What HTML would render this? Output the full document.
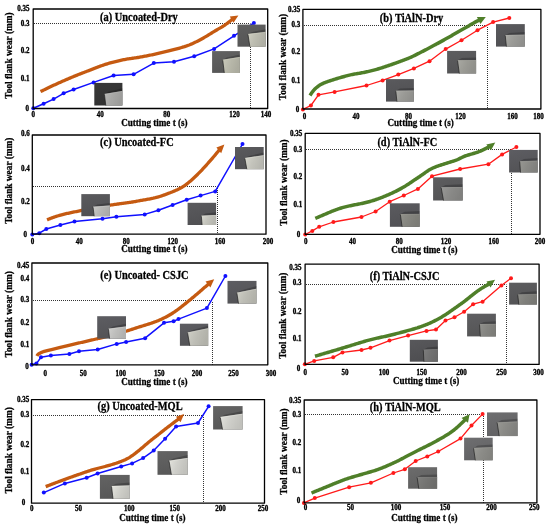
<!DOCTYPE html>
<html><head><meta charset="utf-8"><style>
html,body{margin:0;padding:0;background:#fff;width:550px;height:527px;overflow:hidden;}
svg{display:block;font-family:"Liberation Serif",serif;filter:blur(0.35px);}
</style></head><body>
<svg width="550" height="527" viewBox="0 0 550 527" font-family="Liberation Serif" font-weight="bold" fill="#000" stroke-linejoin="round">
<defs><linearGradient id="t1" x1="0" y1="0" x2="1" y2="0.3"><stop offset="0" stop-color="#b9b9b7"/><stop offset="0.5" stop-color="#a8a8a6"/><stop offset="1" stop-color="#9c9c9a"/></linearGradient><linearGradient id="b1" x1="0" y1="0" x2="0.3" y2="1"><stop offset="0" stop-color="#383838"/><stop offset="1" stop-color="#323232"/></linearGradient><linearGradient id="t2" x1="0" y1="0" x2="1" y2="0.3"><stop offset="0" stop-color="#cacabb"/><stop offset="0.5" stop-color="#b8b8aa"/><stop offset="1" stop-color="#abab9e"/></linearGradient><linearGradient id="b2" x1="0" y1="0" x2="0.3" y2="1"><stop offset="0" stop-color="#626262"/><stop offset="1" stop-color="#565656"/></linearGradient><linearGradient id="t3" x1="0" y1="0" x2="1" y2="0.3"><stop offset="0" stop-color="#cfcfc2"/><stop offset="0.5" stop-color="#bcbcb0"/><stop offset="1" stop-color="#afafa4"/></linearGradient><linearGradient id="b3" x1="0" y1="0" x2="0.3" y2="1"><stop offset="0" stop-color="#5f5f5f"/><stop offset="1" stop-color="#555555"/></linearGradient><linearGradient id="t4" x1="0" y1="0" x2="1" y2="0.3"><stop offset="0" stop-color="#a9a9a5"/><stop offset="0.5" stop-color="#9a9a96"/><stop offset="1" stop-color="#8f8f8c"/></linearGradient><linearGradient id="b4" x1="0" y1="0" x2="0.3" y2="1"><stop offset="0" stop-color="#5a5a5d"/><stop offset="1" stop-color="#505053"/></linearGradient><linearGradient id="t5" x1="0" y1="0" x2="1" y2="0.3"><stop offset="0" stop-color="#a9a9a3"/><stop offset="0.5" stop-color="#9a9a94"/><stop offset="1" stop-color="#8f8f8a"/></linearGradient><linearGradient id="b5" x1="0" y1="0" x2="0.3" y2="1"><stop offset="0" stop-color="#5d5d5f"/><stop offset="1" stop-color="#535355"/></linearGradient><linearGradient id="t6" x1="0" y1="0" x2="1" y2="0.3"><stop offset="0" stop-color="#a9a9a5"/><stop offset="0.5" stop-color="#9a9a96"/><stop offset="1" stop-color="#8f8f8c"/></linearGradient><linearGradient id="b6" x1="0" y1="0" x2="0.3" y2="1"><stop offset="0" stop-color="#5a5a5d"/><stop offset="1" stop-color="#505053"/></linearGradient><linearGradient id="t7" x1="0" y1="0" x2="1" y2="0.3"><stop offset="0" stop-color="#cacac8"/><stop offset="0.5" stop-color="#b8b8b6"/><stop offset="1" stop-color="#ababa9"/></linearGradient><linearGradient id="b7" x1="0" y1="0" x2="0.3" y2="1"><stop offset="0" stop-color="#5a5a5d"/><stop offset="1" stop-color="#505053"/></linearGradient><linearGradient id="t8" x1="0" y1="0" x2="1" y2="0.3"><stop offset="0" stop-color="#d8d8cf"/><stop offset="0.5" stop-color="#c4c4bc"/><stop offset="1" stop-color="#b6b6af"/></linearGradient><linearGradient id="b8" x1="0" y1="0" x2="0.3" y2="1"><stop offset="0" stop-color="#5a5a5d"/><stop offset="1" stop-color="#505053"/></linearGradient><linearGradient id="t9" x1="0" y1="0" x2="1" y2="0.3"><stop offset="0" stop-color="#d8d8cf"/><stop offset="0.5" stop-color="#c4c4bc"/><stop offset="1" stop-color="#b6b6af"/></linearGradient><linearGradient id="b9" x1="0" y1="0" x2="0.3" y2="1"><stop offset="0" stop-color="#5a5a5d"/><stop offset="1" stop-color="#505053"/></linearGradient><linearGradient id="t10" x1="0" y1="0" x2="1" y2="0.3"><stop offset="0" stop-color="#92928c"/><stop offset="0.5" stop-color="#85857f"/><stop offset="1" stop-color="#7c7c76"/></linearGradient><linearGradient id="b10" x1="0" y1="0" x2="0.3" y2="1"><stop offset="0" stop-color="#5b5b5f"/><stop offset="1" stop-color="#515155"/></linearGradient><linearGradient id="t11" x1="0" y1="0" x2="1" y2="0.3"><stop offset="0" stop-color="#989896"/><stop offset="0.5" stop-color="#8a8a88"/><stop offset="1" stop-color="#80807e"/></linearGradient><linearGradient id="b11" x1="0" y1="0" x2="0.3" y2="1"><stop offset="0" stop-color="#5d5d5f"/><stop offset="1" stop-color="#535355"/></linearGradient><linearGradient id="t12" x1="0" y1="0" x2="1" y2="0.3"><stop offset="0" stop-color="#989893"/><stop offset="0.5" stop-color="#8a8a86"/><stop offset="1" stop-color="#80807d"/></linearGradient><linearGradient id="b12" x1="0" y1="0" x2="0.3" y2="1"><stop offset="0" stop-color="#5d5d62"/><stop offset="1" stop-color="#535356"/></linearGradient><linearGradient id="t13" x1="0" y1="0" x2="1" y2="0.3"><stop offset="0" stop-color="#d1d1cf"/><stop offset="0.5" stop-color="#bebebc"/><stop offset="1" stop-color="#b1b1af"/></linearGradient><linearGradient id="b13" x1="0" y1="0" x2="0.3" y2="1"><stop offset="0" stop-color="#5d5d62"/><stop offset="1" stop-color="#535356"/></linearGradient><linearGradient id="t14" x1="0" y1="0" x2="1" y2="0.3"><stop offset="0" stop-color="#d1d1c8"/><stop offset="0.5" stop-color="#bebeb6"/><stop offset="1" stop-color="#b1b1a9"/></linearGradient><linearGradient id="b14" x1="0" y1="0" x2="0.3" y2="1"><stop offset="0" stop-color="#5d5d62"/><stop offset="1" stop-color="#535356"/></linearGradient><linearGradient id="t15" x1="0" y1="0" x2="1" y2="0.3"><stop offset="0" stop-color="#d1d1c8"/><stop offset="0.5" stop-color="#bebeb6"/><stop offset="1" stop-color="#b1b1a9"/></linearGradient><linearGradient id="b15" x1="0" y1="0" x2="0.3" y2="1"><stop offset="0" stop-color="#5d5d62"/><stop offset="1" stop-color="#535356"/></linearGradient><linearGradient id="t16" x1="0" y1="0" x2="1" y2="0.3"><stop offset="0" stop-color="#7d7d7d"/><stop offset="0.5" stop-color="#727272"/><stop offset="1" stop-color="#6a6a6a"/></linearGradient><linearGradient id="b16" x1="0" y1="0" x2="0.3" y2="1"><stop offset="0" stop-color="#58585b"/><stop offset="1" stop-color="#4e4e51"/></linearGradient><linearGradient id="t17" x1="0" y1="0" x2="1" y2="0.3"><stop offset="0" stop-color="#92928e"/><stop offset="0.5" stop-color="#858581"/><stop offset="1" stop-color="#7c7c78"/></linearGradient><linearGradient id="b17" x1="0" y1="0" x2="0.3" y2="1"><stop offset="0" stop-color="#5f5f62"/><stop offset="1" stop-color="#555556"/></linearGradient><linearGradient id="t18" x1="0" y1="0" x2="1" y2="0.3"><stop offset="0" stop-color="#8d8d88"/><stop offset="0.5" stop-color="#80807c"/><stop offset="1" stop-color="#777773"/></linearGradient><linearGradient id="b18" x1="0" y1="0" x2="0.3" y2="1"><stop offset="0" stop-color="#5d5d5f"/><stop offset="1" stop-color="#535355"/></linearGradient><linearGradient id="t19" x1="0" y1="0" x2="1" y2="0.3"><stop offset="0" stop-color="#e5e5de"/><stop offset="0.5" stop-color="#d0d0ca"/><stop offset="1" stop-color="#c1c1bc"/></linearGradient><linearGradient id="b19" x1="0" y1="0" x2="0.3" y2="1"><stop offset="0" stop-color="#636363"/><stop offset="1" stop-color="#575757"/></linearGradient><linearGradient id="t20" x1="0" y1="0" x2="1" y2="0.3"><stop offset="0" stop-color="#e4e4de"/><stop offset="0.5" stop-color="#cfcfca"/><stop offset="1" stop-color="#c1c1bc"/></linearGradient><linearGradient id="b20" x1="0" y1="0" x2="0.3" y2="1"><stop offset="0" stop-color="#646464"/><stop offset="1" stop-color="#585858"/></linearGradient><linearGradient id="t21" x1="0" y1="0" x2="1" y2="0.3"><stop offset="0" stop-color="#e4e4de"/><stop offset="0.5" stop-color="#cfcfca"/><stop offset="1" stop-color="#c1c1bc"/></linearGradient><linearGradient id="b21" x1="0" y1="0" x2="0.3" y2="1"><stop offset="0" stop-color="#646464"/><stop offset="1" stop-color="#585858"/></linearGradient><linearGradient id="t22" x1="0" y1="0" x2="1" y2="0.3"><stop offset="0" stop-color="#80807d"/><stop offset="0.5" stop-color="#747472"/><stop offset="1" stop-color="#6c6c6a"/></linearGradient><linearGradient id="b22" x1="0" y1="0" x2="0.3" y2="1"><stop offset="0" stop-color="#6c6c6c"/><stop offset="1" stop-color="#606060"/></linearGradient><linearGradient id="t23" x1="0" y1="0" x2="1" y2="0.3"><stop offset="0" stop-color="#9a9a96"/><stop offset="0.5" stop-color="#8c8c88"/><stop offset="1" stop-color="#82827e"/></linearGradient><linearGradient id="b23" x1="0" y1="0" x2="0.3" y2="1"><stop offset="0" stop-color="#6e6e70"/><stop offset="1" stop-color="#626264"/></linearGradient><linearGradient id="t24" x1="0" y1="0" x2="1" y2="0.3"><stop offset="0" stop-color="#989893"/><stop offset="0.5" stop-color="#8a8a86"/><stop offset="1" stop-color="#80807d"/></linearGradient><linearGradient id="b24" x1="0" y1="0" x2="0.3" y2="1"><stop offset="0" stop-color="#6e6e70"/><stop offset="1" stop-color="#626264"/></linearGradient></defs><rect width="550" height="527" fill="#fff"/>
<g><path d="M34,23.5H250.5" fill="none" stroke="#333" stroke-width="1" stroke-dasharray="1,1"/><path d="M250.5,25V108.5" fill="none" stroke="#333" stroke-width="1" stroke-dasharray="1,1"/><path d="M40.50,91.60 L41.04,91.34 L41.69,91.02 L42.43,90.67 L43.23,90.28 L44.08,89.86 L44.97,89.43 L45.90,88.98 L46.86,88.52 L47.85,88.04 L48.86,87.56 L49.89,87.07 L50.93,86.57 L51.98,86.08 L53.02,85.59 L54.05,85.11 L55.07,84.64 L56.07,84.18 L57.06,83.73 L58.04,83.28 L59.01,82.84 L59.99,82.41 L60.97,81.97 L61.95,81.54 L62.94,81.11 L63.93,80.67 L64.92,80.24 L65.91,79.81 L66.90,79.39 L67.88,78.96 L68.85,78.55 L69.81,78.14 L70.77,77.73 L71.72,77.33 L72.67,76.93 L73.62,76.54 L74.57,76.14 L75.53,75.75 L76.49,75.36 L77.45,74.97 L78.40,74.59 L79.34,74.22 L80.27,73.85 L81.20,73.49 L82.13,73.14 L83.06,72.78 L84.00,72.42 L84.95,72.05 L85.91,71.69 L86.86,71.33 L87.82,70.96 L88.77,70.60 L89.71,70.23 L90.64,69.87 L91.58,69.51 L92.52,69.14 L93.46,68.77 L94.42,68.40 L95.38,68.02 L96.35,67.65 L97.33,67.27 L98.32,66.90 L99.30,66.53 L100.29,66.16 L101.29,65.81 L102.28,65.45 L103.27,65.11 L104.26,64.77 L105.26,64.44 L106.26,64.12 L107.28,63.81 L108.29,63.50 L109.32,63.20 L110.36,62.91 L111.40,62.62 L112.44,62.34 L113.48,62.06 L114.52,61.79 L115.56,61.53 L116.59,61.28 L117.61,61.03 L118.62,60.79 L119.62,60.56 L120.62,60.34 L121.61,60.12 L122.60,59.91 L123.60,59.70 L124.61,59.51 L125.62,59.32 L126.65,59.14 L127.67,58.97 L128.68,58.81 L129.69,58.66 L130.70,58.52 L131.70,58.38 L132.71,58.25 L133.72,58.11 L134.73,57.97 L135.75,57.82 L136.78,57.66 L137.79,57.50 L138.80,57.33 L139.80,57.16 L140.79,56.98 L141.78,56.80 L142.78,56.62 L143.78,56.43 L144.79,56.23 L145.81,56.04 L146.84,55.83 L147.88,55.63 L148.92,55.42 L149.96,55.21 L151.01,54.99 L152.05,54.78 L153.09,54.56 L154.13,54.34 L155.17,54.11 L156.20,53.89 L157.23,53.66 L158.27,53.43 L159.31,53.19 L160.35,52.95 L161.39,52.71 L162.44,52.47 L163.48,52.22 L164.52,51.97 L165.56,51.72 L166.59,51.47 L167.61,51.22 L168.62,50.97 L169.62,50.72 L170.61,50.47 L171.60,50.22 L172.59,49.96 L173.59,49.70 L174.59,49.44 L175.61,49.17 L176.63,48.89 L177.65,48.62 L178.68,48.33 L179.69,48.05 L180.69,47.77 L181.67,47.48 L182.63,47.20 L183.58,46.91 L184.52,46.62 L185.45,46.31 L186.39,46.00 L187.34,45.67 L188.30,45.31 L189.28,44.94 L190.27,44.54 L191.26,44.13 L192.25,43.70 L193.23,43.25 L194.20,42.80 L195.15,42.34 L196.10,41.87 L197.04,41.40 L197.97,40.93 L198.90,40.44 L199.82,39.96 L200.73,39.47 L201.65,38.97 L202.56,38.46 L203.47,37.95 L204.38,37.43 L205.29,36.90 L206.20,36.36 L207.11,35.81 L208.02,35.26 L208.93,34.69 L209.84,34.13 L210.75,33.56 L211.66,32.99 L212.57,32.42 L213.48,31.86 L214.39,31.31 L215.31,30.76 L216.22,30.22 L217.13,29.70 L218.05,29.17 L218.96,28.66 L219.88,28.14 L220.79,27.61 L221.70,27.07 L222.62,26.51 L223.54,25.93 L224.46,25.32 L225.39,24.67 L226.32,24.01 L227.25,23.32 L228.18,22.62 L229.09,21.92 L229.99,21.21 L230.86,20.51 L231.67,19.85 L232.38,19.27 L232.93,18.82" fill="none" stroke-linejoin="round" stroke="#c55a11" stroke-width="3.3"/><polygon points="238.4,15.5 229.8,16.4 233.5,22.8" fill="#c55a11"/><polyline points="33.3,108.2 43.6,103.8 53.6,99.1 63.6,93.3 73.6,89.5 93.6,82.4 113.6,75.5 133.6,74.3 153.8,63.1 174.0,61.7 194.2,56.3 214.1,48.9 234.0,35.8 253.9,23.0" fill="none" stroke="#1010ff" stroke-width="1.5"/><circle cx="33.3" cy="108.2" r="2.0" fill="#1010ff"/><circle cx="43.6" cy="103.8" r="2.0" fill="#1010ff"/><circle cx="53.6" cy="99.1" r="2.0" fill="#1010ff"/><circle cx="63.6" cy="93.3" r="2.0" fill="#1010ff"/><circle cx="73.6" cy="89.5" r="2.0" fill="#1010ff"/><circle cx="93.6" cy="82.4" r="2.0" fill="#1010ff"/><circle cx="113.6" cy="75.5" r="2.0" fill="#1010ff"/><circle cx="133.6" cy="74.3" r="2.0" fill="#1010ff"/><circle cx="153.8" cy="63.1" r="2.0" fill="#1010ff"/><circle cx="174.0" cy="61.7" r="2.0" fill="#1010ff"/><circle cx="194.2" cy="56.3" r="2.0" fill="#1010ff"/><circle cx="214.1" cy="48.9" r="2.0" fill="#1010ff"/><circle cx="234.0" cy="35.8" r="2.0" fill="#1010ff"/><circle cx="253.9" cy="23.0" r="2.0" fill="#1010ff"/><rect x="94.3" y="82.9" width="28.1" height="22.6" fill="url(#b1)"/><polygon points="108.6,91.7 122.4,88.3 122.4,91.0 104.4,94.0" fill="#000" opacity="0.22"/><polygon points="104.4,94.0 122.4,91.0 122.4,105.5 105.8,105.5" fill="url(#t1)"/><line x1="104.4" y1="94.0" x2="105.8" y2="105.5" stroke="#1e1e1e" stroke-width="0.9" opacity="0.75"/><line x1="104.4" y1="94.3" x2="122.4" y2="91.3" stroke="#c1c1bf" stroke-width="0.6" opacity="0.7"/><rect x="212.1" y="51.1" width="27.8" height="21.8" fill="url(#b2)"/><polygon points="226.8,57.6 239.9,54.4 239.9,57.0 222.7,59.8" fill="#000" opacity="0.22"/><polygon points="222.7,59.8 239.9,57.0 239.9,72.9 224.3,72.9" fill="url(#t2)"/><line x1="222.7" y1="59.8" x2="224.3" y2="72.9" stroke="#1e1e1e" stroke-width="0.9" opacity="0.75"/><line x1="222.7" y1="60.1" x2="239.9" y2="57.3" stroke="#d4d4c3" stroke-width="0.6" opacity="0.7"/><rect x="237.5" y="24.6" width="28.1" height="22.1" fill="url(#b3)"/><polygon points="252.1,31.9 265.6,29.2 265.6,31.9 247.9,34.1" fill="#000" opacity="0.22"/><polygon points="247.9,34.1 265.6,31.9 265.6,46.7 249.9,46.7" fill="url(#t3)"/><line x1="247.9" y1="34.1" x2="249.9" y2="46.7" stroke="#1e1e1e" stroke-width="0.9" opacity="0.75"/><line x1="247.9" y1="34.4" x2="265.6" y2="32.2" stroke="#d8d8ca" stroke-width="0.6" opacity="0.7"/><rect x="33.2" y="9.0" width="234.5" height="99.5" fill="none" stroke="#000" stroke-width="1.3"/><text transform="translate(29.5,11.3) scale(1,1.15)" text-anchor="end" font-size="7.0" stroke="#000" stroke-width="0.3">0.35</text><text transform="translate(29.5,25.7) scale(1,1.15)" text-anchor="end" font-size="7.0" stroke="#000" stroke-width="0.3">0.3</text><text transform="translate(29.5,53.1) scale(1,1.15)" text-anchor="end" font-size="7.0" stroke="#000" stroke-width="0.3">0.2</text><text transform="translate(29.5,81.4) scale(1,1.15)" text-anchor="end" font-size="7.0" stroke="#000" stroke-width="0.3">0.1</text><text transform="translate(28.9,110.8) scale(1,1.15)" text-anchor="end" font-size="7.0" stroke="#000" stroke-width="0.3">0</text><text transform="translate(33.3,116.5) scale(1,1.15)" text-anchor="middle" font-size="7.0" stroke="#000" stroke-width="0.3">0</text><text transform="translate(100.3,116.5) scale(1,1.15)" text-anchor="middle" font-size="7.0" stroke="#000" stroke-width="0.3">40</text><text transform="translate(166.8,116.5) scale(1,1.15)" text-anchor="middle" font-size="7.0" stroke="#000" stroke-width="0.3">80</text><text transform="translate(234.6,116.5) scale(1,1.15)" text-anchor="middle" font-size="7.0" stroke="#000" stroke-width="0.3">120</text><text transform="translate(266.0,116.5) scale(1,1.15)" text-anchor="middle" font-size="7.0" stroke="#000" stroke-width="0.3">140</text><text transform="translate(100.1,21.4) scale(1,1.1)" font-size="10.4" stroke="#000" stroke-width="0.25">(a) Uncoated-Dry</text><text transform="translate(121.2,125.7) scale(1,1.1)" font-size="9.1" stroke="#000" stroke-width="0.25">Cutting time t (s)</text><text x="0" y="0" transform="translate(12.4,55.5) rotate(-90) scale(1,1.12)" text-anchor="middle" font-size="9.35" stroke="#000" stroke-width="0.25">Tool flank wear (mm)</text></g><g><path d="M304,25.5H487.5" fill="none" stroke="#333" stroke-width="1" stroke-dasharray="1,1"/><path d="M487.5,27V109.0" fill="none" stroke="#333" stroke-width="1" stroke-dasharray="1,1"/><path d="M310.00,95.50 L310.41,94.87 L310.95,94.02 L311.55,93.11 L312.19,92.20 L312.88,91.31 L313.61,90.44 L314.37,89.59 L315.16,88.78 L315.98,88.00 L316.82,87.27 L317.68,86.58 L318.55,85.94 L319.43,85.35 L320.33,84.81 L321.23,84.30 L322.16,83.83 L323.10,83.38 L324.06,82.96 L325.04,82.57 L326.04,82.18 L327.05,81.81 L328.08,81.44 L329.11,81.08 L330.16,80.73 L331.20,80.38 L332.24,80.05 L333.27,79.72 L334.30,79.40 L335.32,79.08 L336.34,78.78 L337.35,78.48 L338.36,78.18 L339.37,77.88 L340.38,77.59 L341.38,77.30 L342.39,77.01 L343.39,76.72 L344.39,76.44 L345.39,76.16 L346.40,75.88 L347.41,75.62 L348.42,75.36 L349.44,75.12 L350.46,74.88 L351.49,74.66 L352.51,74.46 L353.54,74.26 L354.58,74.08 L355.62,73.89 L356.66,73.72 L357.70,73.54 L358.74,73.36 L359.78,73.18 L360.80,72.99 L361.82,72.80 L362.83,72.61 L363.83,72.42 L364.83,72.22 L365.83,72.02 L366.82,71.81 L367.82,71.59 L368.81,71.37 L369.81,71.14 L370.80,70.90 L371.79,70.66 L372.79,70.40 L373.78,70.14 L374.77,69.87 L375.76,69.59 L376.75,69.31 L377.75,69.02 L378.74,68.72 L379.73,68.42 L380.72,68.11 L381.71,67.80 L382.70,67.48 L383.69,67.17 L384.68,66.84 L385.67,66.52 L386.66,66.19 L387.66,65.85 L388.65,65.52 L389.64,65.17 L390.64,64.83 L391.64,64.48 L392.64,64.13 L393.66,63.77 L394.68,63.40 L395.71,63.03 L396.74,62.66 L397.77,62.29 L398.80,61.91 L399.82,61.54 L400.82,61.17 L401.82,60.80 L402.81,60.43 L403.81,60.06 L404.80,59.69 L405.79,59.32 L406.79,58.93 L407.78,58.54 L408.75,58.15 L409.71,57.74 L410.66,57.32 L411.60,56.90 L412.52,56.46 L413.45,56.02 L414.38,55.56 L415.32,55.10 L416.25,54.63 L417.19,54.16 L418.13,53.69 L419.06,53.22 L419.98,52.75 L420.91,52.28 L421.82,51.81 L422.74,51.34 L423.65,50.87 L424.56,50.40 L425.47,49.92 L426.38,49.45 L427.29,48.97 L428.20,48.49 L429.11,48.01 L430.02,47.52 L430.93,47.04 L431.84,46.55 L432.75,46.06 L433.66,45.57 L434.57,45.08 L435.48,44.59 L436.39,44.09 L437.30,43.60 L438.21,43.10 L439.12,42.61 L440.03,42.11 L440.94,41.61 L441.85,41.11 L442.76,40.61 L443.68,40.10 L444.60,39.59 L445.52,39.08 L446.45,38.56 L447.39,38.03 L448.33,37.50 L449.28,36.97 L450.22,36.43 L451.16,35.90 L452.08,35.37 L452.99,34.84 L453.89,34.31 L454.78,33.79 L455.66,33.26 L456.54,32.74 L457.41,32.21 L458.28,31.70 L459.14,31.19 L460.02,30.69 L460.90,30.20 L461.79,29.71 L462.69,29.23 L463.60,28.74 L464.51,28.25 L465.43,27.75 L466.34,27.23 L467.25,26.71 L468.16,26.17 L469.07,25.63 L469.98,25.09 L470.90,24.54 L471.83,24.00 L472.77,23.46 L473.73,22.93 L474.69,22.41 L475.65,21.90 L476.62,21.40 L477.59,20.92 L478.53,20.46 L479.36,20.05 L480.00,19.74" fill="none" stroke-linejoin="round" stroke="#4f7f29" stroke-width="3.5"/><polygon points="485.8,16.9 476.9,16.9 480.4,23.9" fill="#4f7f29"/><polyline points="302.9,109.4 310.9,105.5 318.5,94.8 334.6,91.9 366.5,85.5 382.6,80.4 398.3,74.6 413.9,68.4 429.5,61.2 445.7,49.1 461.5,40.2 477.5,30.2 493.1,22.1 509.3,18.0" fill="none" stroke="#ff1a1a" stroke-width="1.3"/><circle cx="302.9" cy="109.4" r="2.0" fill="#ff1a1a"/><circle cx="310.9" cy="105.5" r="2.0" fill="#ff1a1a"/><circle cx="318.5" cy="94.8" r="2.0" fill="#ff1a1a"/><circle cx="334.6" cy="91.9" r="2.0" fill="#ff1a1a"/><circle cx="366.5" cy="85.5" r="2.0" fill="#ff1a1a"/><circle cx="382.6" cy="80.4" r="2.0" fill="#ff1a1a"/><circle cx="398.3" cy="74.6" r="2.0" fill="#ff1a1a"/><circle cx="413.9" cy="68.4" r="2.0" fill="#ff1a1a"/><circle cx="429.5" cy="61.2" r="2.0" fill="#ff1a1a"/><circle cx="445.7" cy="49.1" r="2.0" fill="#ff1a1a"/><circle cx="461.5" cy="40.2" r="2.0" fill="#ff1a1a"/><circle cx="477.5" cy="30.2" r="2.0" fill="#ff1a1a"/><circle cx="493.1" cy="22.1" r="2.0" fill="#ff1a1a"/><circle cx="509.3" cy="18.0" r="2.0" fill="#ff1a1a"/><rect x="386.0" y="79.1" width="27.9" height="22.5" fill="url(#b4)"/><polygon points="399.9,88.5 413.9,87.9 413.9,90.6 395.8,90.8" fill="#000" opacity="0.22"/><polygon points="395.8,90.8 413.9,90.6 413.9,101.6 396.9,101.6" fill="url(#t4)"/><line x1="395.8" y1="90.8" x2="396.9" y2="101.6" stroke="#1e1e1e" stroke-width="0.9" opacity="0.75"/><line x1="395.8" y1="91.1" x2="413.9" y2="90.9" stroke="#b1b1ac" stroke-width="0.6" opacity="0.7"/><rect x="447.1" y="50.9" width="29.0" height="22.6" fill="url(#b5)"/><polygon points="461.9,57.9 476.1,57.5 476.1,60.2 457.5,60.2" fill="#000" opacity="0.22"/><polygon points="457.5,60.2 476.1,60.2 476.1,73.5 459.3,73.5" fill="url(#t5)"/><line x1="457.5" y1="60.2" x2="459.3" y2="73.5" stroke="#1e1e1e" stroke-width="0.9" opacity="0.75"/><line x1="457.5" y1="60.5" x2="476.1" y2="60.5" stroke="#b1b1aa" stroke-width="0.6" opacity="0.7"/><rect x="496.0" y="24.1" width="28.8" height="22.5" fill="url(#b6)"/><polygon points="509.5,32.9 524.8,32.0 524.8,34.7 505.2,35.1" fill="#000" opacity="0.22"/><polygon points="505.2,35.1 524.8,34.7 524.8,46.6 506.4,46.6" fill="url(#t6)"/><line x1="505.2" y1="35.1" x2="506.4" y2="46.6" stroke="#1e1e1e" stroke-width="0.9" opacity="0.75"/><line x1="505.2" y1="35.4" x2="524.8" y2="35.0" stroke="#b1b1ac" stroke-width="0.6" opacity="0.7"/><rect x="302.9" y="9.4" width="238.0" height="99.6" fill="none" stroke="#000" stroke-width="1.3"/><text transform="translate(300.3,11.7) scale(1,1.15)" text-anchor="end" font-size="7.0" stroke="#000" stroke-width="0.3">0.35</text><text transform="translate(300.3,27.3) scale(1,1.15)" text-anchor="end" font-size="7.0" stroke="#000" stroke-width="0.3">0.3</text><text transform="translate(300.3,53.6) scale(1,1.15)" text-anchor="end" font-size="7.0" stroke="#000" stroke-width="0.3">0.2</text><text transform="translate(300.3,83.3) scale(1,1.15)" text-anchor="end" font-size="7.0" stroke="#000" stroke-width="0.3">0.1</text><text transform="translate(299.2,112.4) scale(1,1.15)" text-anchor="end" font-size="7.0" stroke="#000" stroke-width="0.3">0</text><text transform="translate(304.5,118.5) scale(1,1.15)" text-anchor="middle" font-size="7.0" stroke="#000" stroke-width="0.3">0</text><text transform="translate(356.0,118.5) scale(1,1.15)" text-anchor="middle" font-size="7.0" stroke="#000" stroke-width="0.3">40</text><text transform="translate(408.4,118.5) scale(1,1.15)" text-anchor="middle" font-size="7.0" stroke="#000" stroke-width="0.3">80</text><text transform="translate(460.6,118.5) scale(1,1.15)" text-anchor="middle" font-size="7.0" stroke="#000" stroke-width="0.3">120</text><text transform="translate(512.5,118.5) scale(1,1.15)" text-anchor="middle" font-size="7.0" stroke="#000" stroke-width="0.3">160</text><text transform="translate(538.4,118.5) scale(1,1.15)" text-anchor="middle" font-size="7.0" stroke="#000" stroke-width="0.3">180</text><text transform="translate(379.8,22.0) scale(1,1.1)" font-size="10.4" stroke="#000" stroke-width="0.25">(b) TiAlN-Dry</text><text transform="translate(387.5,125.7) scale(1,1.1)" font-size="9.1" stroke="#000" stroke-width="0.25">Cutting time t (s)</text><text x="0" y="0" transform="translate(286.2,57.0) rotate(-90) scale(1,1.12)" text-anchor="middle" font-size="9.35" stroke="#000" stroke-width="0.25">Tool flank wear (mm)</text></g><g><path d="M33,186.5H217.5" fill="none" stroke="#333" stroke-width="1" stroke-dasharray="1,1"/><path d="M217.5,188V234.2" fill="none" stroke="#333" stroke-width="1" stroke-dasharray="1,1"/><path d="M47.00,219.80 L47.59,219.58 L48.30,219.30 L49.12,218.99 L50.01,218.64 L50.96,218.28 L51.97,217.91 L53.01,217.53 L54.08,217.15 L55.18,216.78 L56.29,216.40 L57.40,216.05 L58.49,215.71 L59.54,215.39 L60.56,215.10 L61.54,214.83 L62.48,214.59 L63.40,214.35 L64.32,214.13 L65.24,213.91 L66.16,213.70 L67.10,213.48 L68.06,213.27 L69.03,213.06 L70.03,212.84 L71.05,212.63 L72.09,212.41 L73.15,212.19 L74.23,211.97 L75.32,211.74 L76.42,211.52 L77.51,211.30 L78.59,211.09 L79.64,210.87 L80.67,210.67 L81.67,210.47 L82.66,210.28 L83.63,210.08 L84.61,209.89 L85.60,209.70 L86.60,209.51 L87.61,209.31 L88.64,209.11 L89.68,208.91 L90.73,208.71 L91.79,208.51 L92.86,208.31 L93.93,208.11 L95.00,207.90 L96.07,207.70 L97.14,207.50 L98.21,207.31 L99.27,207.11 L100.32,206.92 L101.36,206.73 L102.39,206.54 L103.40,206.36 L104.40,206.18 L105.39,206.01 L106.37,205.83 L107.34,205.66 L108.33,205.49 L109.34,205.33 L110.37,205.16 L111.43,204.98 L112.52,204.81 L113.62,204.64 L114.74,204.47 L115.85,204.31 L116.95,204.15 L118.03,204.00 L119.09,203.86 L120.13,203.72 L121.14,203.58 L122.13,203.45 L123.09,203.33 L124.03,203.21 L124.95,203.09 L125.86,202.97 L126.75,202.84 L127.65,202.72 L128.55,202.59 L129.47,202.46 L130.42,202.31 L131.37,202.16 L132.33,202.00 L133.29,201.84 L134.23,201.68 L135.16,201.51 L136.09,201.34 L137.02,201.17 L137.95,201.00 L138.90,200.82 L139.86,200.64 L140.84,200.47 L141.82,200.29 L142.81,200.12 L143.82,199.94 L144.85,199.76 L145.89,199.58 L146.94,199.40 L148.01,199.21 L149.08,199.01 L150.15,198.81 L151.22,198.60 L152.28,198.38 L153.34,198.16 L154.38,197.92 L155.43,197.67 L156.46,197.40 L157.50,197.12 L158.53,196.83 L159.57,196.52 L160.59,196.20 L161.61,195.86 L162.62,195.52 L163.61,195.17 L164.58,194.83 L165.54,194.47 L166.49,194.12 L167.43,193.77 L168.37,193.41 L169.32,193.05 L170.27,192.68 L171.23,192.30 L172.20,191.92 L173.16,191.52 L174.11,191.13 L175.05,190.73 L175.97,190.32 L176.89,189.90 L177.81,189.47 L178.73,189.01 L179.67,188.54 L180.61,188.03 L181.55,187.51 L182.48,186.96 L183.40,186.38 L184.30,185.79 L185.19,185.18 L186.06,184.55 L186.92,183.90 L187.77,183.23 L188.62,182.54 L189.46,181.84 L190.29,181.13 L191.12,180.41 L191.93,179.69 L192.74,178.96 L193.53,178.23 L194.33,177.50 L195.12,176.75 L195.91,176.00 L196.70,175.24 L197.49,174.46 L198.28,173.69 L199.05,172.91 L199.82,172.13 L200.58,171.34 L201.34,170.55 L202.08,169.76 L202.82,168.97 L203.55,168.18 L204.27,167.39 L204.99,166.60 L205.70,165.81 L206.40,165.03 L207.10,164.25 L207.79,163.47 L208.48,162.70 L209.17,161.92 L209.85,161.15 L210.53,160.38 L211.20,159.61 L211.87,158.84 L212.53,158.07 L213.20,157.29 L213.87,156.50 L214.55,155.69 L215.25,154.86 L215.95,154.02 L216.66,153.17 L217.37,152.30 L218.09,151.43 L218.77,150.60 L219.37,149.86 L219.82,149.30" fill="none" stroke-linejoin="round" stroke="#c55a11" stroke-width="3.3"/><polygon points="224.4,144.4 216.4,147.6 221.2,153.2" fill="#c55a11"/><polyline points="32.3,234.4 39.3,233.2 46.3,229.0 60.4,225.0 74.5,221.6 102.5,218.7 116.4,216.7 144.7,214.4 158.4,210.2 172.6,205.0 186.7,199.8 200.6,195.6 215.2,191.4 242.5,144.0" fill="none" stroke="#1010ff" stroke-width="1.5"/><circle cx="32.3" cy="234.4" r="2.0" fill="#1010ff"/><circle cx="39.3" cy="233.2" r="2.0" fill="#1010ff"/><circle cx="46.3" cy="229.0" r="2.0" fill="#1010ff"/><circle cx="60.4" cy="225.0" r="2.0" fill="#1010ff"/><circle cx="74.5" cy="221.6" r="2.0" fill="#1010ff"/><circle cx="102.5" cy="218.7" r="2.0" fill="#1010ff"/><circle cx="116.4" cy="216.7" r="2.0" fill="#1010ff"/><circle cx="144.7" cy="214.4" r="2.0" fill="#1010ff"/><circle cx="158.4" cy="210.2" r="2.0" fill="#1010ff"/><circle cx="172.6" cy="205.0" r="2.0" fill="#1010ff"/><circle cx="186.7" cy="199.8" r="2.0" fill="#1010ff"/><circle cx="200.6" cy="195.6" r="2.0" fill="#1010ff"/><circle cx="215.2" cy="191.4" r="2.0" fill="#1010ff"/><circle cx="242.5" cy="144.0" r="2.0" fill="#1010ff"/><rect x="81.3" y="194.1" width="28.6" height="22.1" fill="url(#b7)"/><polygon points="97.3,204.5 109.9,202.9 109.9,205.6 93.0,206.7" fill="#000" opacity="0.22"/><polygon points="93.0,206.7 109.9,205.6 109.9,216.2 94.2,216.2" fill="url(#t7)"/><line x1="93.0" y1="206.7" x2="94.2" y2="216.2" stroke="#1e1e1e" stroke-width="0.9" opacity="0.75"/><line x1="93.0" y1="207.0" x2="109.9" y2="205.9" stroke="#d4d4d1" stroke-width="0.6" opacity="0.7"/><rect x="187.6" y="202.8" width="28.5" height="22.2" fill="url(#b8)"/><polygon points="205.6,213.5 216.1,212.3 216.1,215.0 201.3,215.7" fill="#000" opacity="0.22"/><polygon points="201.3,215.7 216.1,215.0 216.1,225.0 202.1,225.0" fill="url(#t8)"/><line x1="201.3" y1="215.7" x2="202.1" y2="225.0" stroke="#1e1e1e" stroke-width="0.9" opacity="0.75"/><line x1="201.3" y1="216.0" x2="216.1" y2="215.3" stroke="#e1e1d8" stroke-width="0.6" opacity="0.7"/><rect x="235.0" y="147.0" width="28.7" height="22.2" fill="url(#b9)"/><polygon points="249.1,155.9 263.7,152.6 263.7,155.2 244.8,158.1" fill="#000" opacity="0.22"/><polygon points="244.8,158.1 263.7,155.2 263.7,169.2 246.8,169.2" fill="url(#t9)"/><line x1="244.8" y1="158.1" x2="246.8" y2="169.2" stroke="#1e1e1e" stroke-width="0.9" opacity="0.75"/><line x1="244.8" y1="158.4" x2="263.7" y2="155.5" stroke="#e1e1d8" stroke-width="0.6" opacity="0.7"/><rect x="32.3" y="135.0" width="233.7" height="99.2" fill="none" stroke="#000" stroke-width="1.3"/><text transform="translate(29.7,136.4) scale(1,1.15)" text-anchor="end" font-size="7.0" stroke="#000" stroke-width="0.3">0.6</text><text transform="translate(29.7,171.1) scale(1,1.15)" text-anchor="end" font-size="7.0" stroke="#000" stroke-width="0.3">0.4</text><text transform="translate(29.7,203.5) scale(1,1.15)" text-anchor="end" font-size="7.0" stroke="#000" stroke-width="0.3">0.2</text><text transform="translate(27.1,236.7) scale(1,1.15)" text-anchor="end" font-size="7.0" stroke="#000" stroke-width="0.3">0</text><text transform="translate(32.5,243.6) scale(1,1.15)" text-anchor="middle" font-size="7.0" stroke="#000" stroke-width="0.3">0</text><text transform="translate(79.2,243.6) scale(1,1.15)" text-anchor="middle" font-size="7.0" stroke="#000" stroke-width="0.3">40</text><text transform="translate(126.3,243.6) scale(1,1.15)" text-anchor="middle" font-size="7.0" stroke="#000" stroke-width="0.3">80</text><text transform="translate(172.8,243.6) scale(1,1.15)" text-anchor="middle" font-size="7.0" stroke="#000" stroke-width="0.3">120</text><text transform="translate(220.0,243.6) scale(1,1.15)" text-anchor="middle" font-size="7.0" stroke="#000" stroke-width="0.3">160</text><text transform="translate(267.9,243.6) scale(1,1.15)" text-anchor="middle" font-size="7.0" stroke="#000" stroke-width="0.3">200</text><text transform="translate(100.1,145.7) scale(1,1.1)" font-size="10.4" stroke="#000" stroke-width="0.25">(c) Uncoated-FC</text><text transform="translate(121.2,251.8) scale(1,1.1)" font-size="9.1" stroke="#000" stroke-width="0.25">Cutting time t (s)</text><text x="0" y="0" transform="translate(12.4,180.7) rotate(-90) scale(1,1.12)" text-anchor="middle" font-size="9.35" stroke="#000" stroke-width="0.25">Tool flank wear (mm)</text></g><g><path d="M306,149.5H511.5" fill="none" stroke="#333" stroke-width="1" stroke-dasharray="1,1"/><path d="M511.5,151V234.3" fill="none" stroke="#333" stroke-width="1" stroke-dasharray="1,1"/><path d="M315.30,218.40 L315.96,218.12 L316.82,217.75 L317.81,217.33 L318.84,216.89 L319.86,216.45 L320.89,216.01 L321.92,215.57 L322.95,215.12 L323.98,214.68 L325.01,214.24 L326.03,213.80 L327.06,213.36 L328.09,212.92 L329.12,212.49 L330.14,212.06 L331.17,211.64 L332.19,211.23 L333.21,210.82 L334.23,210.42 L335.24,210.04 L336.25,209.66 L337.27,209.29 L338.28,208.94 L339.29,208.60 L340.30,208.28 L341.31,207.97 L342.32,207.67 L343.33,207.39 L344.35,207.12 L345.36,206.87 L346.38,206.62 L347.40,206.38 L348.43,206.14 L349.46,205.91 L350.50,205.69 L351.55,205.47 L352.59,205.26 L353.63,205.05 L354.67,204.84 L355.69,204.64 L356.71,204.44 L357.72,204.25 L358.73,204.05 L359.74,203.85 L360.75,203.64 L361.76,203.43 L362.77,203.21 L363.78,202.99 L364.79,202.76 L365.81,202.52 L366.83,202.27 L367.87,202.01 L368.91,201.73 L369.95,201.45 L371.00,201.16 L372.04,200.85 L373.07,200.54 L374.10,200.21 L375.12,199.88 L376.14,199.53 L377.15,199.17 L378.17,198.81 L379.18,198.44 L380.19,198.06 L381.20,197.67 L382.21,197.28 L383.22,196.88 L384.23,196.47 L385.24,196.06 L386.24,195.64 L387.24,195.21 L388.23,194.79 L389.21,194.36 L390.18,193.93 L391.13,193.50 L392.08,193.07 L393.01,192.64 L393.93,192.21 L394.85,191.77 L395.76,191.32 L396.68,190.86 L397.60,190.39 L398.52,189.91 L399.45,189.41 L400.39,188.90 L401.33,188.37 L402.28,187.84 L403.22,187.29 L404.15,186.74 L405.08,186.18 L405.98,185.63 L406.87,185.07 L407.75,184.51 L408.62,183.94 L409.48,183.37 L410.33,182.79 L411.19,182.20 L412.06,181.61 L412.94,181.01 L413.83,180.41 L414.74,179.80 L415.67,179.19 L416.61,178.58 L417.55,177.96 L418.51,177.33 L419.45,176.71 L420.39,176.07 L421.32,175.43 L422.24,174.79 L423.15,174.13 L424.05,173.48 L424.94,172.83 L425.82,172.19 L426.71,171.56 L427.61,170.94 L428.53,170.35 L429.47,169.78 L430.44,169.23 L431.44,168.71 L432.46,168.22 L433.51,167.75 L434.57,167.30 L435.65,166.88 L436.73,166.47 L437.81,166.08 L438.88,165.71 L439.95,165.35 L441.00,164.99 L442.04,164.65 L443.08,164.31 L444.12,163.98 L445.17,163.65 L446.22,163.31 L447.28,162.98 L448.34,162.65 L449.40,162.32 L450.46,161.99 L451.52,161.66 L452.57,161.33 L453.61,161.00 L454.64,160.66 L455.65,160.30 L456.64,159.93 L457.61,159.53 L458.56,159.10 L459.49,158.65 L460.42,158.18 L461.35,157.70 L462.28,157.24 L463.22,156.80 L464.18,156.38 L465.16,156.00 L466.16,155.65 L467.17,155.32 L468.21,155.01 L469.24,154.71 L470.28,154.41 L471.31,154.12 L472.33,153.83 L473.34,153.54 L474.35,153.25 L475.36,152.94 L476.36,152.61 L477.38,152.27 L478.39,151.89 L479.42,151.49 L480.44,151.07 L481.47,150.61 L482.51,150.14 L483.54,149.65 L484.56,149.14 L485.58,148.64 L486.58,148.13 L487.55,147.63 L488.46,147.15 L489.25,146.74 L489.87,146.42" fill="none" stroke-linejoin="round" stroke="#4f7f29" stroke-width="3.5"/><polygon points="495.3,142.5 486.3,144.4 491.0,150.2" fill="#4f7f29"/><polyline points="305.2,234.5 312.3,230.9 319.2,226.8 333.4,222.0 361.5,217.0 375.6,211.5 389.7,201.7 403.8,195.5 417.9,188.9 432.0,176.2 460.1,169.0 488.4,164.2 502.1,154.4 516.4,147.0" fill="none" stroke="#ff1a1a" stroke-width="1.3"/><circle cx="305.2" cy="234.5" r="2.0" fill="#ff1a1a"/><circle cx="312.3" cy="230.9" r="2.0" fill="#ff1a1a"/><circle cx="319.2" cy="226.8" r="2.0" fill="#ff1a1a"/><circle cx="333.4" cy="222.0" r="2.0" fill="#ff1a1a"/><circle cx="361.5" cy="217.0" r="2.0" fill="#ff1a1a"/><circle cx="375.6" cy="211.5" r="2.0" fill="#ff1a1a"/><circle cx="389.7" cy="201.7" r="2.0" fill="#ff1a1a"/><circle cx="403.8" cy="195.5" r="2.0" fill="#ff1a1a"/><circle cx="417.9" cy="188.9" r="2.0" fill="#ff1a1a"/><circle cx="432.0" cy="176.2" r="2.0" fill="#ff1a1a"/><circle cx="460.1" cy="169.0" r="2.0" fill="#ff1a1a"/><circle cx="488.4" cy="164.2" r="2.0" fill="#ff1a1a"/><circle cx="502.1" cy="154.4" r="2.0" fill="#ff1a1a"/><circle cx="516.4" cy="147.0" r="2.0" fill="#ff1a1a"/><rect x="389.9" y="203.3" width="29.8" height="23.5" fill="url(#b10)"/><polygon points="404.8,211.8 419.7,211.1 419.7,213.9 400.3,214.1" fill="#000" opacity="0.22"/><polygon points="400.3,214.1 419.7,213.9 419.7,226.8 402.1,226.8" fill="url(#t10)"/><line x1="400.3" y1="214.1" x2="402.1" y2="226.8" stroke="#1e1e1e" stroke-width="0.9" opacity="0.75"/><line x1="400.3" y1="214.4" x2="419.7" y2="214.2" stroke="#999992" stroke-width="0.6" opacity="0.7"/><rect x="433.1" y="177.3" width="29.6" height="23.2" fill="url(#b11)"/><polygon points="445.5,185.0 462.7,184.3 462.7,187.0 441.1,187.3" fill="#000" opacity="0.22"/><polygon points="441.1,187.3 462.7,187.0 462.7,200.5 443.5,200.5" fill="url(#t11)"/><line x1="441.1" y1="187.3" x2="443.5" y2="200.5" stroke="#1e1e1e" stroke-width="0.9" opacity="0.75"/><line x1="441.1" y1="187.6" x2="462.7" y2="187.3" stroke="#9f9f9c" stroke-width="0.6" opacity="0.7"/><rect x="509.1" y="149.9" width="28.6" height="22.6" fill="url(#b12)"/><polygon points="524.0,158.9 537.7,158.0 537.7,160.7 519.7,161.2" fill="#000" opacity="0.22"/><polygon points="519.7,161.2 537.7,160.7 537.7,172.5 520.5,172.5" fill="url(#t12)"/><line x1="519.7" y1="161.2" x2="520.5" y2="172.5" stroke="#1e1e1e" stroke-width="0.9" opacity="0.75"/><line x1="519.7" y1="161.5" x2="537.7" y2="161.0" stroke="#9f9f9a" stroke-width="0.6" opacity="0.7"/><rect x="305.2" y="133.4" width="234.8" height="100.9" fill="none" stroke="#000" stroke-width="1.3"/><text transform="translate(302.3,135.7) scale(1,1.15)" text-anchor="end" font-size="7.0" stroke="#000" stroke-width="0.3">0.35</text><text transform="translate(302.3,151.5) scale(1,1.15)" text-anchor="end" font-size="7.0" stroke="#000" stroke-width="0.3">0.3</text><text transform="translate(302.3,179.0) scale(1,1.15)" text-anchor="end" font-size="7.0" stroke="#000" stroke-width="0.3">0.2</text><text transform="translate(302.3,207.3) scale(1,1.15)" text-anchor="end" font-size="7.0" stroke="#000" stroke-width="0.3">0.1</text><text transform="translate(300.3,236.6) scale(1,1.15)" text-anchor="end" font-size="7.0" stroke="#000" stroke-width="0.3">0</text><text transform="translate(305.7,243.5) scale(1,1.15)" text-anchor="middle" font-size="7.0" stroke="#000" stroke-width="0.3">0</text><text transform="translate(352.4,243.5) scale(1,1.15)" text-anchor="middle" font-size="7.0" stroke="#000" stroke-width="0.3">40</text><text transform="translate(399.2,243.5) scale(1,1.15)" text-anchor="middle" font-size="7.0" stroke="#000" stroke-width="0.3">80</text><text transform="translate(446.0,243.5) scale(1,1.15)" text-anchor="middle" font-size="7.0" stroke="#000" stroke-width="0.3">120</text><text transform="translate(493.8,243.5) scale(1,1.15)" text-anchor="middle" font-size="7.0" stroke="#000" stroke-width="0.3">160</text><text transform="translate(540.0,243.5) scale(1,1.15)" text-anchor="middle" font-size="7.0" stroke="#000" stroke-width="0.3">200</text><text transform="translate(377.4,145.9) scale(1,1.1)" font-size="10.4" stroke="#000" stroke-width="0.25">(d) TiAlN-FC</text><text transform="translate(391.2,252.9) scale(1,1.1)" font-size="9.1" stroke="#000" stroke-width="0.25">Cutting time t (s)</text><text x="0" y="0" transform="translate(287.0,182.5) rotate(-90) scale(1,1.12)" text-anchor="middle" font-size="9.35" stroke="#000" stroke-width="0.25">Tool flank wear (mm)</text></g><g><path d="M33,300.5H212.5" fill="none" stroke="#333" stroke-width="1" stroke-dasharray="1,1"/><path d="M212.5,302V364.8" fill="none" stroke="#333" stroke-width="1" stroke-dasharray="1,1"/><path d="M37.00,356.00 L37.41,355.04 L38.06,354.32 L38.92,353.71 L39.82,353.20 L40.71,352.75 L41.61,352.36 L42.52,352.00 L43.44,351.68 L44.36,351.38 L45.31,351.11 L46.28,350.84 L47.28,350.58 L48.32,350.31 L49.37,350.05 L50.43,349.79 L51.48,349.53 L52.50,349.28 L53.50,349.03 L54.47,348.80 L55.44,348.56 L56.40,348.33 L57.37,348.09 L58.36,347.85 L59.37,347.61 L60.39,347.36 L61.43,347.11 L62.48,346.86 L63.54,346.61 L64.61,346.35 L65.67,346.10 L66.74,345.85 L67.80,345.59 L68.85,345.34 L69.90,345.10 L70.94,344.85 L71.97,344.61 L72.99,344.37 L74.01,344.14 L75.02,343.90 L76.04,343.67 L77.05,343.43 L78.06,343.20 L79.08,342.97 L80.09,342.74 L81.10,342.51 L82.11,342.28 L83.12,342.05 L84.13,341.82 L85.13,341.59 L86.12,341.36 L87.12,341.13 L88.11,340.90 L89.10,340.67 L90.09,340.44 L91.09,340.21 L92.09,339.97 L93.10,339.74 L94.11,339.50 L95.13,339.25 L96.15,339.01 L97.16,338.77 L98.18,338.52 L99.19,338.28 L100.19,338.04 L101.19,337.79 L102.19,337.55 L103.18,337.31 L104.17,337.06 L105.15,336.82 L106.13,336.58 L107.11,336.33 L108.09,336.08 L109.08,335.83 L110.08,335.57 L111.08,335.31 L112.09,335.05 L113.11,334.78 L114.13,334.51 L115.15,334.24 L116.17,333.97 L117.19,333.70 L118.20,333.43 L119.19,333.15 L120.17,332.89 L121.14,332.62 L122.09,332.35 L123.03,332.09 L123.97,331.82 L124.91,331.54 L125.86,331.26 L126.83,330.97 L127.80,330.66 L128.79,330.35 L129.77,330.04 L130.74,329.72 L131.70,329.39 L132.65,329.08 L133.59,328.76 L134.53,328.45 L135.48,328.13 L136.43,327.83 L137.39,327.52 L138.36,327.22 L139.33,326.92 L140.32,326.62 L141.31,326.32 L142.30,326.02 L143.30,325.72 L144.30,325.42 L145.30,325.11 L146.29,324.80 L147.29,324.49 L148.28,324.17 L149.28,323.85 L150.27,323.53 L151.26,323.20 L152.25,322.86 L153.24,322.52 L154.23,322.17 L155.21,321.81 L156.19,321.44 L157.16,321.06 L158.12,320.66 L159.08,320.26 L160.03,319.84 L160.97,319.42 L161.90,318.98 L162.83,318.54 L163.75,318.09 L164.67,317.63 L165.58,317.16 L166.47,316.69 L167.36,316.22 L168.24,315.74 L169.10,315.25 L169.96,314.76 L170.80,314.26 L171.64,313.76 L172.47,313.24 L173.31,312.70 L174.15,312.14 L174.99,311.57 L175.84,310.97 L176.69,310.36 L177.54,309.74 L178.38,309.12 L179.21,308.49 L180.04,307.86 L180.87,307.22 L181.70,306.57 L182.54,305.91 L183.39,305.23 L184.25,304.54 L185.11,303.85 L185.98,303.15 L186.84,302.45 L187.70,301.76 L188.55,301.06 L189.39,300.37 L190.22,299.69 L191.06,299.00 L191.89,298.31 L192.72,297.62 L193.56,296.92 L194.39,296.22 L195.22,295.52 L196.04,294.83 L196.85,294.14 L197.64,293.46 L198.42,292.79 L199.19,292.13 L199.95,291.47 L200.71,290.82 L201.47,290.16 L202.26,289.48 L203.06,288.79 L203.88,288.08 L204.71,287.36 L205.54,286.64 L206.37,285.92 L207.21,285.19 L207.96,284.54 L208.60,283.98 L209.10,283.54" fill="none" stroke-linejoin="round" stroke="#c55a11" stroke-width="3.3"/><polygon points="214.2,279.3 205.5,281.5 210.4,287.5" fill="#c55a11"/><polyline points="31.6,364.8 36.4,363.6 41.0,357.2 50.9,355.4 69.4,354.0 79.0,351.3 97.7,349.5 116.7,343.9 126.1,341.9 145.1,338.2 164.0,322.8 173.6,321.2 178.5,319.1 206.9,308.1 225.4,276.0" fill="none" stroke="#1010ff" stroke-width="1.5"/><circle cx="31.6" cy="364.8" r="2.0" fill="#1010ff"/><circle cx="36.4" cy="363.6" r="2.0" fill="#1010ff"/><circle cx="41.0" cy="357.2" r="2.0" fill="#1010ff"/><circle cx="50.9" cy="355.4" r="2.0" fill="#1010ff"/><circle cx="69.4" cy="354.0" r="2.0" fill="#1010ff"/><circle cx="79.0" cy="351.3" r="2.0" fill="#1010ff"/><circle cx="97.7" cy="349.5" r="2.0" fill="#1010ff"/><circle cx="116.7" cy="343.9" r="2.0" fill="#1010ff"/><circle cx="126.1" cy="341.9" r="2.0" fill="#1010ff"/><circle cx="145.1" cy="338.2" r="2.0" fill="#1010ff"/><circle cx="164.0" cy="322.8" r="2.0" fill="#1010ff"/><circle cx="173.6" cy="321.2" r="2.0" fill="#1010ff"/><circle cx="178.5" cy="319.1" r="2.0" fill="#1010ff"/><circle cx="206.9" cy="308.1" r="2.0" fill="#1010ff"/><circle cx="225.4" cy="276.0" r="2.0" fill="#1010ff"/><rect x="97.2" y="316.2" width="28.8" height="22.4" fill="url(#b13)"/><polygon points="112.8,326.5 126.0,323.8 126.0,326.5 108.4,328.7" fill="#000" opacity="0.22"/><polygon points="108.4,328.7 126.0,326.5 126.0,338.6 109.6,338.6" fill="url(#t13)"/><line x1="108.4" y1="328.7" x2="109.6" y2="338.6" stroke="#1e1e1e" stroke-width="0.9" opacity="0.75"/><line x1="108.4" y1="329.0" x2="126.0" y2="326.8" stroke="#dadad8" stroke-width="0.6" opacity="0.7"/><rect x="179.9" y="323.7" width="28.3" height="22.1" fill="url(#b14)"/><polygon points="191.8,330.3 208.2,325.7 208.2,328.3 187.5,332.5" fill="#000" opacity="0.22"/><polygon points="187.5,332.5 208.2,328.3 208.2,345.8 189.8,345.8" fill="url(#t14)"/><line x1="187.5" y1="332.5" x2="189.8" y2="345.8" stroke="#1e1e1e" stroke-width="0.9" opacity="0.75"/><line x1="187.5" y1="332.8" x2="208.2" y2="328.6" stroke="#dadad1" stroke-width="0.6" opacity="0.7"/><rect x="227.5" y="280.9" width="29.0" height="22.7" fill="url(#b15)"/><polygon points="241.1,290.4 256.5,286.1 256.5,288.8 236.8,292.7" fill="#000" opacity="0.22"/><polygon points="236.8,292.7 256.5,288.8 256.5,303.6 238.5,303.6" fill="url(#t15)"/><line x1="236.8" y1="292.7" x2="238.5" y2="303.6" stroke="#1e1e1e" stroke-width="0.9" opacity="0.75"/><line x1="236.8" y1="293.0" x2="256.5" y2="289.1" stroke="#dadad1" stroke-width="0.6" opacity="0.7"/><rect x="31.9" y="263.0" width="235.9" height="101.8" fill="none" stroke="#000" stroke-width="1.3"/><text transform="translate(29.3,268.4) scale(1,1.15)" text-anchor="end" font-size="7.0" stroke="#000" stroke-width="0.3">0.45</text><text transform="translate(29.3,280.6) scale(1,1.15)" text-anchor="end" font-size="7.0" stroke="#000" stroke-width="0.3">0.4</text><text transform="translate(29.3,302.3) scale(1,1.15)" text-anchor="end" font-size="7.0" stroke="#000" stroke-width="0.3">0.3</text><text transform="translate(29.3,324.5) scale(1,1.15)" text-anchor="end" font-size="7.0" stroke="#000" stroke-width="0.3">0.2</text><text transform="translate(29.3,347.1) scale(1,1.15)" text-anchor="end" font-size="7.0" stroke="#000" stroke-width="0.3">0.1</text><text transform="translate(28.8,369.1) scale(1,1.15)" text-anchor="end" font-size="7.0" stroke="#000" stroke-width="0.3">0</text><text transform="translate(45.2,375.7) scale(1,1.15)" text-anchor="middle" font-size="7.0" stroke="#000" stroke-width="0.3">0</text><text transform="translate(83.3,375.7) scale(1,1.15)" text-anchor="middle" font-size="7.0" stroke="#000" stroke-width="0.3">50</text><text transform="translate(120.7,375.7) scale(1,1.15)" text-anchor="middle" font-size="7.0" stroke="#000" stroke-width="0.3">100</text><text transform="translate(159.3,375.7) scale(1,1.15)" text-anchor="middle" font-size="7.0" stroke="#000" stroke-width="0.3">150</text><text transform="translate(197.0,375.7) scale(1,1.15)" text-anchor="middle" font-size="7.0" stroke="#000" stroke-width="0.3">200</text><text transform="translate(233.5,375.7) scale(1,1.15)" text-anchor="middle" font-size="7.0" stroke="#000" stroke-width="0.3">250</text><text transform="translate(271.0,375.7) scale(1,1.15)" text-anchor="middle" font-size="7.0" stroke="#000" stroke-width="0.3">300</text><text transform="translate(100.3,279.0) scale(1,1.1)" font-size="10.4" stroke="#000" stroke-width="0.25">(e) Uncoated- CSJC</text><text transform="translate(121.2,384.7) scale(1,1.1)" font-size="9.1" stroke="#000" stroke-width="0.25">Cutting time t (s)</text><text x="0" y="0" transform="translate(12.1,314.3) rotate(-90) scale(1,1.12)" text-anchor="middle" font-size="9.35" stroke="#000" stroke-width="0.25">Tool flank wear (mm)</text></g><g><path d="M306,284.5H506.5" fill="none" stroke="#333" stroke-width="1" stroke-dasharray="1,1"/><path d="M506.5,286V364.4" fill="none" stroke="#333" stroke-width="1" stroke-dasharray="1,1"/><path d="M315.00,356.20 L315.59,356.03 L316.30,355.82 L317.10,355.59 L317.98,355.33 L318.92,355.06 L319.90,354.77 L320.91,354.47 L321.97,354.16 L323.05,353.85 L324.16,353.52 L325.28,353.19 L326.41,352.86 L327.52,352.53 L328.62,352.21 L329.69,351.89 L330.73,351.58 L331.74,351.28 L332.73,350.98 L333.72,350.69 L334.70,350.40 L335.69,350.10 L336.68,349.80 L337.68,349.50 L338.70,349.20 L339.72,348.89 L340.74,348.58 L341.77,348.27 L342.80,347.96 L343.84,347.65 L344.87,347.34 L345.90,347.03 L346.93,346.72 L347.95,346.41 L348.97,346.11 L349.98,345.80 L350.99,345.49 L351.99,345.19 L353.00,344.88 L354.00,344.57 L355.00,344.26 L356.00,343.95 L357.00,343.64 L358.00,343.33 L359.00,343.02 L360.00,342.71 L361.00,342.41 L362.00,342.11 L363.00,341.80 L364.00,341.51 L365.00,341.22 L366.00,340.93 L367.00,340.64 L368.00,340.37 L369.00,340.10 L370.00,339.83 L371.00,339.58 L372.00,339.32 L373.00,339.08 L374.00,338.84 L375.00,338.61 L376.00,338.38 L377.00,338.16 L378.00,337.94 L379.00,337.73 L380.00,337.51 L381.00,337.30 L382.00,337.08 L383.00,336.87 L384.00,336.65 L385.00,336.43 L386.00,336.21 L387.01,335.98 L388.01,335.75 L389.03,335.51 L390.05,335.27 L391.07,335.02 L392.11,334.76 L393.16,334.50 L394.22,334.23 L395.28,333.95 L396.35,333.67 L397.43,333.39 L398.50,333.11 L399.56,332.83 L400.62,332.55 L401.66,332.27 L402.69,331.99 L403.70,331.72 L404.68,331.45 L405.65,331.19 L406.61,330.93 L407.56,330.67 L408.53,330.40 L409.50,330.13 L410.50,329.85 L411.51,329.57 L412.53,329.28 L413.54,328.99 L414.53,328.71 L415.49,328.42 L416.43,328.13 L417.37,327.84 L418.30,327.53 L419.24,327.22 L420.20,326.90 L421.17,326.56 L422.16,326.21 L423.15,325.85 L424.15,325.47 L425.14,325.09 L426.13,324.70 L427.11,324.30 L428.08,323.90 L429.03,323.49 L429.98,323.07 L430.91,322.65 L431.83,322.22 L432.74,321.78 L433.66,321.34 L434.57,320.88 L435.48,320.42 L436.39,319.94 L437.30,319.46 L438.21,318.96 L439.12,318.46 L440.03,317.94 L440.94,317.42 L441.85,316.88 L442.75,316.34 L443.65,315.79 L444.55,315.23 L445.44,314.67 L446.32,314.10 L447.19,313.53 L448.05,312.95 L448.90,312.37 L449.75,311.78 L450.59,311.19 L451.43,310.60 L452.27,310.01 L453.10,309.42 L453.93,308.83 L454.76,308.24 L455.60,307.65 L456.44,307.06 L457.28,306.48 L458.12,305.89 L458.97,305.30 L459.81,304.70 L460.65,304.11 L461.49,303.50 L462.32,302.90 L463.15,302.28 L463.98,301.65 L464.81,301.02 L465.63,300.38 L466.46,299.74 L467.28,299.08 L468.10,298.43 L468.92,297.78 L469.74,297.12 L470.55,296.48 L471.36,295.83 L472.17,295.19 L472.97,294.56 L473.76,293.93 L474.56,293.30 L475.37,292.68 L476.18,292.06 L477.01,291.45 L477.86,290.83 L478.74,290.22 L479.65,289.61 L480.58,289.00 L481.55,288.39 L482.53,287.78 L483.53,287.18 L484.53,286.59 L485.52,286.00 L486.52,285.43 L487.48,284.88 L488.38,284.37 L489.16,283.93 L489.77,283.58" fill="none" stroke-linejoin="round" stroke="#4f7f29" stroke-width="3.5"/><polygon points="495.1,279.8 486.5,281.4 490.6,287.5" fill="#4f7f29"/><polyline points="304.8,364.3 314.2,360.9 333.2,357.3 342.5,352.4 361.5,350.0 370.5,347.8 389.5,340.6 408.1,335.6 426.5,330.9 436.0,329.5 445.5,320.5 454.5,317.3 464.1,311.8 473.1,304.2 482.6,301.7 501.4,285.4 511.0,278.3" fill="none" stroke="#ff1a1a" stroke-width="1.3"/><circle cx="304.8" cy="364.3" r="2.0" fill="#ff1a1a"/><circle cx="314.2" cy="360.9" r="2.0" fill="#ff1a1a"/><circle cx="333.2" cy="357.3" r="2.0" fill="#ff1a1a"/><circle cx="342.5" cy="352.4" r="2.0" fill="#ff1a1a"/><circle cx="361.5" cy="350.0" r="2.0" fill="#ff1a1a"/><circle cx="370.5" cy="347.8" r="2.0" fill="#ff1a1a"/><circle cx="389.5" cy="340.6" r="2.0" fill="#ff1a1a"/><circle cx="408.1" cy="335.6" r="2.0" fill="#ff1a1a"/><circle cx="426.5" cy="330.9" r="2.0" fill="#ff1a1a"/><circle cx="436.0" cy="329.5" r="2.0" fill="#ff1a1a"/><circle cx="445.5" cy="320.5" r="2.0" fill="#ff1a1a"/><circle cx="454.5" cy="317.3" r="2.0" fill="#ff1a1a"/><circle cx="464.1" cy="311.8" r="2.0" fill="#ff1a1a"/><circle cx="473.1" cy="304.2" r="2.0" fill="#ff1a1a"/><circle cx="482.6" cy="301.7" r="2.0" fill="#ff1a1a"/><circle cx="501.4" cy="285.4" r="2.0" fill="#ff1a1a"/><circle cx="511.0" cy="278.3" r="2.0" fill="#ff1a1a"/><rect x="409.8" y="339.8" width="28.1" height="21.9" fill="url(#b16)"/><polygon points="427.5,347.5 437.9,346.4 437.9,349.0 423.3,349.7" fill="#000" opacity="0.22"/><polygon points="423.3,349.7 437.9,349.0 437.9,361.7 423.9,361.7" fill="url(#t16)"/><line x1="423.3" y1="349.7" x2="423.9" y2="361.7" stroke="#1e1e1e" stroke-width="0.9" opacity="0.75"/><line x1="423.3" y1="350.0" x2="437.9" y2="349.3" stroke="#838383" stroke-width="0.6" opacity="0.7"/><rect x="467.1" y="313.7" width="28.8" height="22.7" fill="url(#b17)"/><polygon points="483.8,321.9 495.9,321.2 495.9,323.9 479.5,324.1" fill="#000" opacity="0.22"/><polygon points="479.5,324.1 495.9,323.9 495.9,336.4 480.3,336.4" fill="url(#t17)"/><line x1="479.5" y1="324.1" x2="480.3" y2="336.4" stroke="#1e1e1e" stroke-width="0.9" opacity="0.75"/><line x1="479.5" y1="324.4" x2="495.9" y2="324.2" stroke="#999994" stroke-width="0.6" opacity="0.7"/><rect x="509.1" y="282.7" width="27.8" height="21.9" fill="url(#b18)"/><polygon points="521.9,292.3 536.9,291.2 536.9,293.9 517.7,294.5" fill="#000" opacity="0.22"/><polygon points="517.7,294.5 536.9,293.9 536.9,304.6 518.8,304.6" fill="url(#t18)"/><line x1="517.7" y1="294.5" x2="518.8" y2="304.6" stroke="#1e1e1e" stroke-width="0.9" opacity="0.75"/><line x1="517.7" y1="294.8" x2="536.9" y2="294.2" stroke="#93938f" stroke-width="0.6" opacity="0.7"/><rect x="305.1" y="264.2" width="234.0" height="100.2" fill="none" stroke="#000" stroke-width="1.3"/><text transform="translate(301.6,270.3) scale(1,1.15)" text-anchor="end" font-size="7.0" stroke="#000" stroke-width="0.3">0.35</text><text transform="translate(301.6,284.8) scale(1,1.15)" text-anchor="end" font-size="7.0" stroke="#000" stroke-width="0.3">0.3</text><text transform="translate(301.6,313.6) scale(1,1.15)" text-anchor="end" font-size="7.0" stroke="#000" stroke-width="0.3">0.2</text><text transform="translate(301.6,341.0) scale(1,1.15)" text-anchor="end" font-size="7.0" stroke="#000" stroke-width="0.3">0.1</text><text transform="translate(300.3,370.5) scale(1,1.15)" text-anchor="end" font-size="7.0" stroke="#000" stroke-width="0.3">0</text><text transform="translate(305.2,374.6) scale(1,1.15)" text-anchor="middle" font-size="7.0" stroke="#000" stroke-width="0.3">0</text><text transform="translate(344.9,374.6) scale(1,1.15)" text-anchor="middle" font-size="7.0" stroke="#000" stroke-width="0.3">50</text><text transform="translate(384.0,374.6) scale(1,1.15)" text-anchor="middle" font-size="7.0" stroke="#000" stroke-width="0.3">100</text><text transform="translate(421.8,374.6) scale(1,1.15)" text-anchor="middle" font-size="7.0" stroke="#000" stroke-width="0.3">150</text><text transform="translate(461.4,374.6) scale(1,1.15)" text-anchor="middle" font-size="7.0" stroke="#000" stroke-width="0.3">200</text><text transform="translate(501.4,374.6) scale(1,1.15)" text-anchor="middle" font-size="7.0" stroke="#000" stroke-width="0.3">250</text><text transform="translate(538.5,374.6) scale(1,1.15)" text-anchor="middle" font-size="7.0" stroke="#000" stroke-width="0.3">300</text><text transform="translate(369.8,279.5) scale(1,1.1)" font-size="10.4" stroke="#000" stroke-width="0.25">(f) TiAlN-CSJC</text><text transform="translate(392.9,384.4) scale(1,1.1)" font-size="9.1" stroke="#000" stroke-width="0.25">Cutting time t (s)</text><text x="0" y="0" transform="translate(286.4,315.7) rotate(-90) scale(1,1.12)" text-anchor="middle" font-size="9.35" stroke="#000" stroke-width="0.25">Tool flank wear (mm)</text></g><g><path d="M33,415.5H203.5" fill="none" stroke="#333" stroke-width="1" stroke-dasharray="1,1"/><path d="M203.5,417V503.2" fill="none" stroke="#333" stroke-width="1" stroke-dasharray="1,1"/><path d="M45.70,486.60 L46.25,486.39 L46.91,486.14 L47.65,485.86 L48.46,485.55 L49.33,485.22 L50.23,484.88 L51.17,484.52 L52.14,484.15 L53.14,483.77 L54.17,483.38 L55.21,482.98 L56.27,482.58 L57.34,482.18 L58.40,481.78 L59.45,481.38 L60.50,480.99 L61.53,480.61 L62.55,480.23 L63.57,479.85 L64.57,479.48 L65.58,479.12 L66.58,478.75 L67.59,478.39 L68.60,478.02 L69.60,477.66 L70.60,477.31 L71.60,476.96 L72.58,476.61 L73.55,476.26 L74.52,475.93 L75.47,475.59 L76.41,475.26 L77.35,474.93 L78.29,474.61 L79.24,474.28 L80.21,473.94 L81.19,473.60 L82.19,473.25 L83.22,472.89 L84.25,472.53 L85.28,472.18 L86.30,471.83 L87.31,471.48 L88.30,471.15 L89.28,470.82 L90.26,470.50 L91.23,470.19 L92.21,469.89 L93.19,469.60 L94.18,469.31 L95.18,469.04 L96.18,468.77 L97.18,468.51 L98.18,468.26 L99.17,468.01 L100.16,467.77 L101.15,467.52 L102.14,467.27 L103.14,467.01 L104.14,466.75 L105.14,466.48 L106.15,466.21 L107.16,465.93 L108.17,465.65 L109.18,465.37 L110.19,465.08 L111.20,464.78 L112.21,464.48 L113.22,464.17 L114.23,463.85 L115.24,463.53 L116.24,463.20 L117.24,462.86 L118.23,462.52 L119.20,462.17 L120.16,461.81 L121.11,461.45 L122.04,461.08 L122.96,460.70 L123.87,460.31 L124.77,459.91 L125.67,459.49 L126.57,459.04 L127.47,458.57 L128.35,458.08 L129.23,457.57 L130.09,457.03 L130.94,456.48 L131.78,455.91 L132.62,455.32 L133.45,454.71 L134.28,454.09 L135.11,453.46 L135.94,452.82 L136.77,452.17 L137.60,451.51 L138.42,450.85 L139.25,450.18 L140.07,449.50 L140.90,448.82 L141.73,448.13 L142.56,447.42 L143.39,446.72 L144.21,446.01 L145.03,445.30 L145.85,444.60 L146.66,443.90 L147.48,443.21 L148.30,442.52 L149.12,441.84 L149.94,441.17 L150.76,440.50 L151.58,439.84 L152.41,439.19 L153.24,438.55 L154.06,437.90 L154.89,437.26 L155.71,436.62 L156.54,435.98 L157.35,435.34 L158.17,434.71 L158.98,434.07 L159.79,433.43 L160.59,432.79 L161.40,432.15 L162.21,431.51 L163.03,430.86 L163.85,430.21 L164.69,429.55 L165.54,428.88 L166.41,428.21 L167.29,427.54 L168.18,426.85 L169.09,426.16 L170.01,425.46 L170.95,424.76 L171.89,424.05 L172.84,423.34 L173.77,422.64 L174.70,421.95 L175.60,421.28 L176.48,420.63 L177.32,420.00 L178.10,419.43 L178.77,418.93 L179.30,418.53" fill="none" stroke-linejoin="round" stroke="#c55a11" stroke-width="3.3"/><polygon points="184.1,414.1 175.9,416.8 180.5,422.3" fill="#c55a11"/><polyline points="43.8,492.6 64.9,483.4 86.7,477.8 97.6,473.5 121.2,466.5 132.1,463.4 143.1,458.1 153.7,450.6 165.1,438.8 176.1,426.4 198.0,423.0 208.6,406.3" fill="none" stroke="#1010ff" stroke-width="1.5"/><circle cx="43.8" cy="492.6" r="2.0" fill="#1010ff"/><circle cx="64.9" cy="483.4" r="2.0" fill="#1010ff"/><circle cx="86.7" cy="477.8" r="2.0" fill="#1010ff"/><circle cx="97.6" cy="473.5" r="2.0" fill="#1010ff"/><circle cx="121.2" cy="466.5" r="2.0" fill="#1010ff"/><circle cx="132.1" cy="463.4" r="2.0" fill="#1010ff"/><circle cx="143.1" cy="458.1" r="2.0" fill="#1010ff"/><circle cx="153.7" cy="450.6" r="2.0" fill="#1010ff"/><circle cx="165.1" cy="438.8" r="2.0" fill="#1010ff"/><circle cx="176.1" cy="426.4" r="2.0" fill="#1010ff"/><circle cx="198.0" cy="423.0" r="2.0" fill="#1010ff"/><circle cx="208.6" cy="406.3" r="2.0" fill="#1010ff"/><rect x="99.9" y="474.9" width="29.8" height="23.9" fill="url(#b19)"/><polygon points="116.0,483.7 129.7,482.5 129.7,485.4 111.5,486.1" fill="#000" opacity="0.22"/><polygon points="111.5,486.1 129.7,485.4 129.7,498.8 113.0,498.8" fill="url(#t19)"/><line x1="111.5" y1="486.1" x2="113.0" y2="498.8" stroke="#1e1e1e" stroke-width="0.9" opacity="0.75"/><line x1="111.5" y1="486.4" x2="129.7" y2="485.7" stroke="#efefe8" stroke-width="0.6" opacity="0.7"/><rect x="157.5" y="451.1" width="30.2" height="23.7" fill="url(#b20)"/><polygon points="173.5,458.4 187.7,455.1 187.7,458.0 169.0,460.8" fill="#000" opacity="0.22"/><polygon points="169.0,460.8 187.7,458.0 187.7,474.8 171.4,474.8" fill="url(#t20)"/><line x1="169.0" y1="460.8" x2="171.4" y2="474.8" stroke="#1e1e1e" stroke-width="0.9" opacity="0.75"/><line x1="169.0" y1="461.1" x2="187.7" y2="458.3" stroke="#eeeee8" stroke-width="0.6" opacity="0.7"/><rect x="213.1" y="406.1" width="29.5" height="23.4" fill="url(#b21)"/><polygon points="224.6,414.8 242.6,411.0 242.6,413.8 220.2,417.1" fill="#000" opacity="0.22"/><polygon points="220.2,417.1 242.6,413.8 242.6,429.5 222.5,429.5" fill="url(#t21)"/><line x1="220.2" y1="417.1" x2="222.5" y2="429.5" stroke="#1e1e1e" stroke-width="0.9" opacity="0.75"/><line x1="220.2" y1="417.4" x2="242.6" y2="414.1" stroke="#eeeee8" stroke-width="0.6" opacity="0.7"/><rect x="31.5" y="399.6" width="233.0" height="103.6" fill="none" stroke="#000" stroke-width="1.3"/><text transform="translate(29.3,402.4) scale(1,1.15)" text-anchor="end" font-size="7.0" stroke="#000" stroke-width="0.3">0.35</text><text transform="translate(29.3,417.2) scale(1,1.15)" text-anchor="end" font-size="7.0" stroke="#000" stroke-width="0.3">0.3</text><text transform="translate(29.3,446.8) scale(1,1.15)" text-anchor="end" font-size="7.0" stroke="#000" stroke-width="0.3">0.2</text><text transform="translate(29.3,474.1) scale(1,1.15)" text-anchor="end" font-size="7.0" stroke="#000" stroke-width="0.3">0.1</text><text transform="translate(25.3,504.9) scale(1,1.15)" text-anchor="end" font-size="7.0" stroke="#000" stroke-width="0.3">0</text><text transform="translate(31.8,511.4) scale(1,1.15)" text-anchor="middle" font-size="7.0" stroke="#000" stroke-width="0.3">0</text><text transform="translate(78.4,511.4) scale(1,1.15)" text-anchor="middle" font-size="7.0" stroke="#000" stroke-width="0.3">50</text><text transform="translate(129.2,511.4) scale(1,1.15)" text-anchor="middle" font-size="7.0" stroke="#000" stroke-width="0.3">100</text><text transform="translate(174.8,511.4) scale(1,1.15)" text-anchor="middle" font-size="7.0" stroke="#000" stroke-width="0.3">150</text><text transform="translate(220.5,511.4) scale(1,1.15)" text-anchor="middle" font-size="7.0" stroke="#000" stroke-width="0.3">200</text><text transform="translate(262.9,511.4) scale(1,1.15)" text-anchor="middle" font-size="7.0" stroke="#000" stroke-width="0.3">250</text><text transform="translate(97.5,409.7) scale(1,1.1)" font-size="10.4" stroke="#000" stroke-width="0.25">(g) Uncoated-MQL</text><text transform="translate(119.2,521.0) scale(1,1.1)" font-size="9.1" stroke="#000" stroke-width="0.25">Cutting time t (s)</text><text x="0" y="0" transform="translate(12.1,450.4) rotate(-90) scale(1,1.12)" text-anchor="middle" font-size="9.35" stroke="#000" stroke-width="0.25">Tool flank wear (mm)</text></g><g><path d="M305,414.5H483.5" fill="none" stroke="#333" stroke-width="1" stroke-dasharray="1,1"/><path d="M483.5,416V502.8" fill="none" stroke="#333" stroke-width="1" stroke-dasharray="1,1"/><path d="M311.50,493.00 L312.06,492.77 L312.72,492.49 L313.48,492.18 L314.31,491.84 L315.19,491.48 L316.11,491.10 L317.06,490.70 L318.04,490.30 L319.06,489.88 L320.10,489.45 L321.15,489.02 L322.22,488.58 L323.29,488.14 L324.36,487.70 L325.41,487.27 L326.46,486.84 L327.49,486.42 L328.50,486.01 L329.50,485.60 L330.50,485.19 L331.49,484.79 L332.47,484.38 L333.44,483.98 L334.42,483.58 L335.38,483.19 L336.35,482.80 L337.31,482.41 L338.27,482.02 L339.22,481.64 L340.17,481.26 L341.13,480.89 L342.08,480.53 L343.04,480.17 L343.99,479.82 L344.95,479.47 L345.91,479.14 L346.87,478.81 L347.83,478.49 L348.80,478.17 L349.76,477.87 L350.73,477.57 L351.69,477.28 L352.66,476.99 L353.62,476.70 L354.59,476.42 L355.55,476.14 L356.52,475.87 L357.48,475.59 L358.45,475.31 L359.41,475.04 L360.37,474.76 L361.33,474.48 L362.30,474.20 L363.26,473.93 L364.22,473.65 L365.18,473.37 L366.14,473.10 L367.10,472.83 L368.05,472.55 L369.01,472.28 L369.97,472.00 L370.93,471.73 L371.89,471.44 L372.85,471.15 L373.81,470.86 L374.77,470.55 L375.73,470.24 L376.70,469.91 L377.68,469.57 L378.67,469.22 L379.67,468.85 L380.68,468.46 L381.70,468.06 L382.74,467.64 L383.78,467.21 L384.83,466.78 L385.87,466.33 L386.91,465.89 L387.93,465.45 L388.93,465.01 L389.90,464.58 L390.85,464.16 L391.77,463.74 L392.67,463.34 L393.56,462.94 L394.44,462.53 L395.31,462.13 L396.19,461.71 L397.05,461.29 L397.92,460.87 L398.77,460.43 L399.63,459.99 L400.47,459.55 L401.32,459.11 L402.16,458.67 L403.01,458.22 L403.88,457.76 L404.77,457.30 L405.68,456.81 L406.61,456.32 L407.57,455.82 L408.54,455.31 L409.53,454.79 L410.52,454.27 L411.51,453.75 L412.50,453.23 L413.47,452.72 L414.44,452.22 L415.40,451.73 L416.34,451.25 L417.27,450.77 L418.19,450.30 L419.11,449.84 L420.02,449.39 L420.93,448.94 L421.84,448.49 L422.74,448.04 L423.65,447.59 L424.55,447.14 L425.45,446.70 L426.36,446.24 L427.26,445.79 L428.17,445.33 L429.08,444.87 L429.99,444.40 L430.90,443.93 L431.82,443.45 L432.74,442.96 L433.67,442.46 L434.61,441.95 L435.56,441.44 L436.51,440.92 L437.47,440.39 L438.43,439.85 L439.39,439.32 L440.35,438.78 L441.30,438.24 L442.24,437.70 L443.17,437.17 L444.08,436.63 L444.98,436.10 L445.86,435.57 L446.73,435.04 L447.60,434.49 L448.47,433.93 L449.35,433.36 L450.23,432.76 L451.11,432.15 L451.98,431.52 L452.83,430.89 L453.66,430.26 L454.46,429.62 L455.25,428.99 L456.02,428.34 L456.79,427.68 L457.57,427.00 L458.35,426.30 L459.15,425.58 L459.96,424.83 L460.76,424.07 L461.57,423.30 L462.37,422.53 L463.15,421.76 L463.90,421.01 L464.60,420.31 L465.21,419.70 L465.68,419.23" fill="none" stroke-linejoin="round" stroke="#4f7f29" stroke-width="3.5"/><polygon points="469.6,414.3 461.5,418.1 468.0,422.7" fill="#4f7f29"/><polyline points="303.9,502.9 314.8,498.1 349.1,487.2 370.9,482.8 393.4,473.0 404.8,469.3 415.7,461.0 427.3,456.4 438.2,451.5 460.5,438.6 471.5,425.5 482.6,414.1" fill="none" stroke="#ff1a1a" stroke-width="1.3"/><circle cx="303.9" cy="502.9" r="2.0" fill="#ff1a1a"/><circle cx="314.8" cy="498.1" r="2.0" fill="#ff1a1a"/><circle cx="349.1" cy="487.2" r="2.0" fill="#ff1a1a"/><circle cx="370.9" cy="482.8" r="2.0" fill="#ff1a1a"/><circle cx="393.4" cy="473.0" r="2.0" fill="#ff1a1a"/><circle cx="404.8" cy="469.3" r="2.0" fill="#ff1a1a"/><circle cx="415.7" cy="461.0" r="2.0" fill="#ff1a1a"/><circle cx="427.3" cy="456.4" r="2.0" fill="#ff1a1a"/><circle cx="438.2" cy="451.5" r="2.0" fill="#ff1a1a"/><circle cx="460.5" cy="438.6" r="2.0" fill="#ff1a1a"/><circle cx="471.5" cy="425.5" r="2.0" fill="#ff1a1a"/><circle cx="482.6" cy="414.1" r="2.0" fill="#ff1a1a"/><rect x="408.1" y="467.2" width="29.0" height="21.5" fill="url(#b22)"/><polygon points="421.4,474.9 437.1,474.5 437.1,477.1 417.1,477.1" fill="#000" opacity="0.22"/><polygon points="417.1,477.1 437.1,477.1 437.1,488.7 418.8,488.7" fill="url(#t22)"/><line x1="417.1" y1="477.1" x2="418.8" y2="488.7" stroke="#1e1e1e" stroke-width="0.9" opacity="0.75"/><line x1="417.1" y1="477.4" x2="437.1" y2="477.4" stroke="#858583" stroke-width="0.6" opacity="0.7"/><rect x="464.1" y="437.7" width="28.6" height="22.6" fill="url(#b23)"/><polygon points="477.8,445.6 492.7,444.5 492.7,447.2 473.5,447.9" fill="#000" opacity="0.22"/><polygon points="473.5,447.9 492.7,447.2 492.7,460.3 475.3,460.3" fill="url(#t23)"/><line x1="473.5" y1="447.9" x2="475.3" y2="460.3" stroke="#1e1e1e" stroke-width="0.9" opacity="0.75"/><line x1="473.5" y1="448.2" x2="492.7" y2="447.5" stroke="#a1a19c" stroke-width="0.6" opacity="0.7"/><rect x="487.0" y="412.4" width="30.6" height="23.7" fill="url(#b24)"/><polygon points="501.7,420.0 517.6,418.8 517.6,421.6 497.1,422.4" fill="#000" opacity="0.22"/><polygon points="497.1,422.4 517.6,421.6 517.6,436.1 499.2,436.1" fill="url(#t24)"/><line x1="497.1" y1="422.4" x2="499.2" y2="436.1" stroke="#1e1e1e" stroke-width="0.9" opacity="0.75"/><line x1="497.1" y1="422.7" x2="517.6" y2="421.9" stroke="#9f9f9a" stroke-width="0.6" opacity="0.7"/><rect x="304.2" y="400.0" width="232.7" height="102.8" fill="none" stroke="#000" stroke-width="1.3"/><text transform="translate(301.3,402.6) scale(1,1.15)" text-anchor="end" font-size="7.0" stroke="#000" stroke-width="0.3">0.35</text><text transform="translate(301.3,416.5) scale(1,1.15)" text-anchor="end" font-size="7.0" stroke="#000" stroke-width="0.3">0.3</text><text transform="translate(301.3,444.5) scale(1,1.15)" text-anchor="end" font-size="7.0" stroke="#000" stroke-width="0.3">0.2</text><text transform="translate(301.3,473.0) scale(1,1.15)" text-anchor="end" font-size="7.0" stroke="#000" stroke-width="0.3">0.1</text><text transform="translate(300.3,502.6) scale(1,1.15)" text-anchor="end" font-size="7.0" stroke="#000" stroke-width="0.3">0</text><text transform="translate(305.5,509.9) scale(1,1.15)" text-anchor="middle" font-size="7.0" stroke="#000" stroke-width="0.3">0</text><text transform="translate(350.6,509.9) scale(1,1.15)" text-anchor="middle" font-size="7.0" stroke="#000" stroke-width="0.3">50</text><text transform="translate(396.0,509.9) scale(1,1.15)" text-anchor="middle" font-size="7.0" stroke="#000" stroke-width="0.3">100</text><text transform="translate(445.0,509.9) scale(1,1.15)" text-anchor="middle" font-size="7.0" stroke="#000" stroke-width="0.3">150</text><text transform="translate(491.4,509.9) scale(1,1.15)" text-anchor="middle" font-size="7.0" stroke="#000" stroke-width="0.3">200</text><text transform="translate(534.2,509.9) scale(1,1.15)" text-anchor="middle" font-size="7.0" stroke="#000" stroke-width="0.3">250</text><text transform="translate(369.8,410.5) scale(1,1.1)" font-size="10.4" stroke="#000" stroke-width="0.25">(h) TiAlN-MQL</text><text transform="translate(391.2,520.6) scale(1,1.1)" font-size="9.1" stroke="#000" stroke-width="0.25">Cutting time t (s)</text><text x="0" y="0" transform="translate(287.2,451.5) rotate(-90) scale(1,1.12)" text-anchor="middle" font-size="9.35" stroke="#000" stroke-width="0.25">Tool flank wear (mm)</text></g>
</svg>
</body></html>
